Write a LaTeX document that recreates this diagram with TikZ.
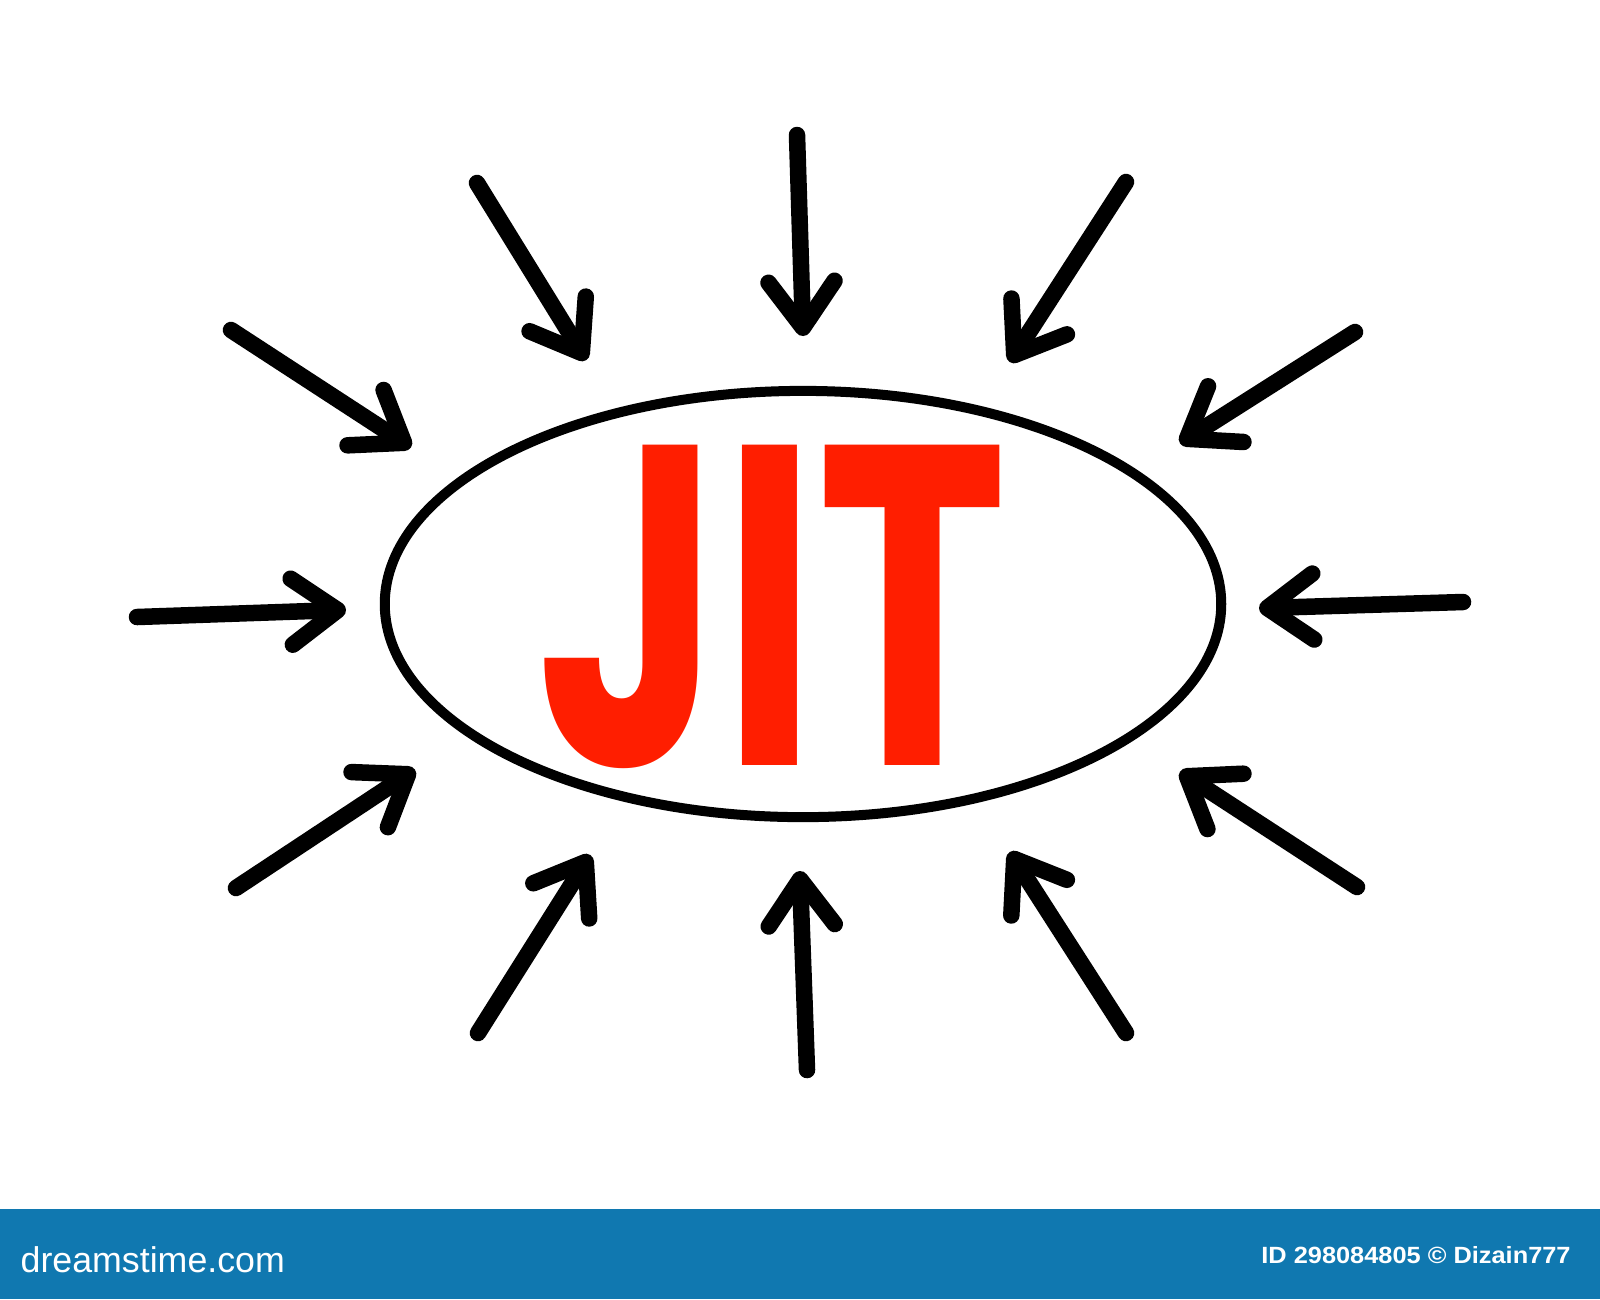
\documentclass[tikz,border=0pt]{standalone}
\usepackage{fontspec}
\usetikzlibrary{arrows.meta,shapes.geometric}
\newfontfamily\jitfont{Poppins}
\newfontfamily\footfont{Liberation Sans}
\definecolor{jitred}{RGB}{255,30,0}
\definecolor{barblue}{RGB}{16,120,176}
\tikzset{
  arrowin/.style={line width=1.65mm, line cap=round, shorten >=-0.6mm, -{Straight Barb[length=4.6mm, width=6.6mm, round]}},
  oval/.style={ellipse, draw, line width=1mm, minimum width=8.36cm, minimum height=4.26cm, inner sep=0pt},
}

\begin{document}
\begin{tikzpicture}[x=0.01cm, y=-0.01cm]
	\useasboundingbox (0,0) rectangle (1600,1299);
	\node[oval] (oval) at (803,604) {};
	\node[inner sep=0pt, text=jitred] (jit) at (772,607) {\resizebox{4.7cm}{3.2cm}{\jitfont\bfseries JIT}};

	% arrow ends
	\coordinate (top tail) at (797,135);
	\coordinate (top tip) at (803,330);
	\coordinate (tl tail) at (477,183);
	\coordinate (tl tip) at (583,355);
	\coordinate (tr tail) at (1126,182);
	\coordinate (tr tip) at (1013,357);
	\coordinate (lu tail) at (231,330);
	\coordinate (lu tip) at (406,444);
	\coordinate (ru tail) at (1355,332);
	\coordinate (ru tip) at (1185,440);
	\coordinate (left tail) at (137,617);
	\coordinate (left tip) at (340,610);
	\coordinate (right tail) at (1463,602);
	\coordinate (right tip) at (1265,608);
	\coordinate (ll tail) at (236,888);
	\coordinate (ll tip) at (410,773);
	\coordinate (rl tail) at (1357,887);
	\coordinate (rl tip) at (1185,775);
	\coordinate (bl tail) at (478,1033);
	\coordinate (bl tip) at (587,860);
	\coordinate (br tail) at (1126,1033);
	\coordinate (br tip) at (1013,857);
	\coordinate (bottom tail) at (807,1070);
	\coordinate (bottom tip) at (800,877);

	\draw[arrowin] (top tail) -- (top tip);
	\draw[arrowin] (tl tail) -- (tl tip);
	\draw[arrowin] (tr tail) -- (tr tip);
	\draw[arrowin] (lu tail) -- (lu tip);
	\draw[arrowin] (ru tail) -- (ru tip);
	\draw[arrowin] (left tail) -- (left tip);
	\draw[arrowin] (right tail) -- (right tip);
	\draw[arrowin] (ll tail) -- (ll tip);
	\draw[arrowin] (rl tail) -- (rl tip);
	\draw[arrowin] (bl tail) -- (bl tip);
	\draw[arrowin] (br tail) -- (br tip);
	\draw[arrowin] (bottom tail) -- (bottom tip);

	% footer bar
	\fill[barblue] (0,1209) rectangle (1600,1299);
	\node[inner sep=0pt, anchor=base west, text=white] (site) at (20,1272) {\resizebox{2.64cm}{!}{\footfont dreamstime.com}};
	\node[inner sep=0pt, text=white] (credit) at (1416,1255) {\resizebox{3.09cm}{0.17cm}{\footfont\bfseries ID 298084805 © Dizain777}};
\end{tikzpicture}
\end{document}
